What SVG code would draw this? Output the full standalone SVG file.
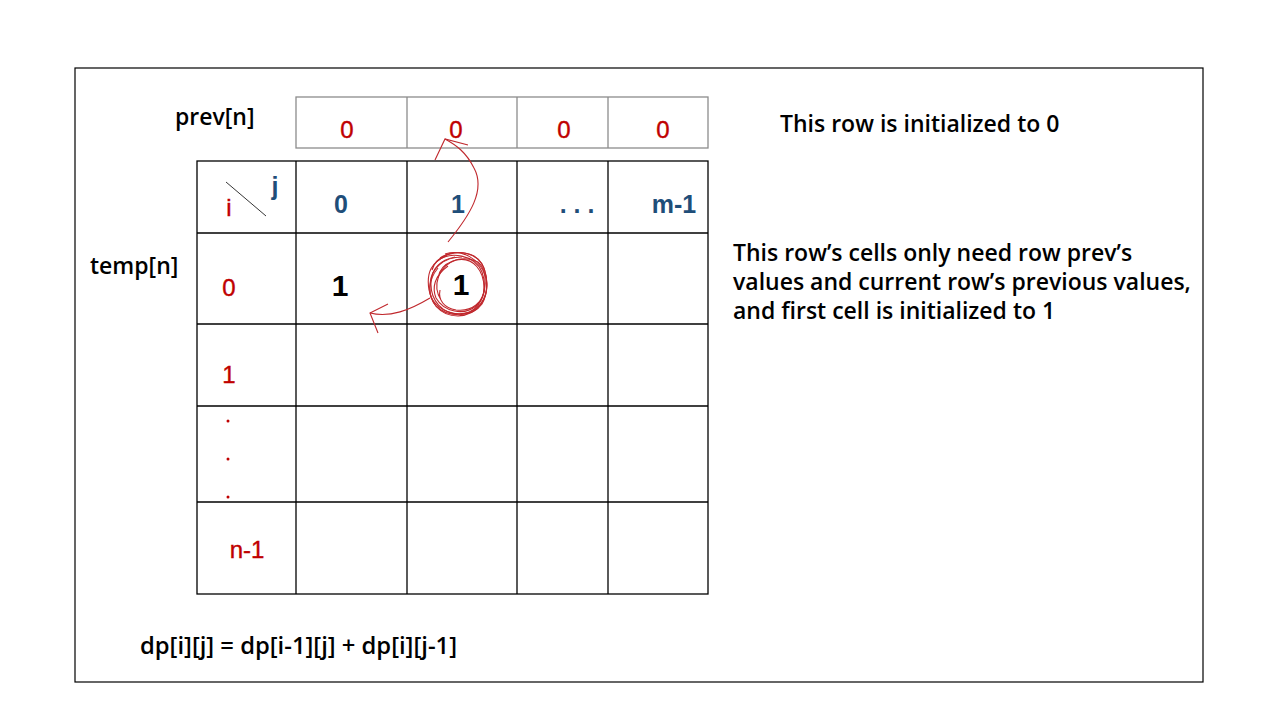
<svg xmlns="http://www.w3.org/2000/svg" width="1280" height="720" viewBox="0 0 1280 720">
<style>
.lbl{font-family:"Open Sans","Noto Sans",sans-serif;font-weight:600;font-size:23px;fill:#000}
.red{font-family:"Liberation Sans",Arial,sans-serif;font-size:24px;fill:#c00000;stroke:#c00000;stroke-width:0.4}
.blue{font-family:"Liberation Sans",Arial,sans-serif;font-weight:bold;font-size:25px;fill:#1f4e79}
.blk{font-family:"Liberation Sans",Arial,sans-serif;font-weight:bold;font-size:30px;fill:#000}
.grid{fill:none;stroke:#000;stroke-width:1.3}
.gray{fill:none;stroke:#8c8c8c;stroke-width:1.3}
.scr{fill:none;stroke:#c0282d;stroke-width:1.1}
</style>
<rect width="1280" height="720" fill="#fff"/>
<rect x="75" y="68" width="1128" height="614" fill="none" stroke="#000" stroke-width="1.2"/>

<g id="prev-row">
<text class="lbl" x="175" y="125">prev[n]</text>
<rect class="gray" x="296" y="97" width="412" height="51"/>
<line class="gray" x1="407" y1="97" x2="407" y2="148"/>
<line class="gray" x1="517" y1="97" x2="517" y2="148"/>
<line class="gray" x1="608" y1="97" x2="608" y2="148"/>
<text class="red" x="347" y="138" text-anchor="middle">0</text>
<text class="red" x="456" y="138" text-anchor="middle">0</text>
<text class="red" x="564" y="138" text-anchor="middle">0</text>
<text class="red" x="663" y="138" text-anchor="middle">0</text>
</g>

<g id="temp-grid">
<text class="lbl" x="90" y="274">temp[n]</text>
<rect class="grid" x="197" y="161" width="511" height="433"/>
<line class="grid" x1="296" y1="161" x2="296" y2="594"/>
<line class="grid" x1="407" y1="161" x2="407" y2="594"/>
<line class="grid" x1="517" y1="161" x2="517" y2="594"/>
<line class="grid" x1="608" y1="161" x2="608" y2="594"/>
<line class="grid" x1="197" y1="233" x2="708" y2="233"/>
<line class="grid" x1="197" y1="324" x2="708" y2="324"/>
<line class="grid" x1="197" y1="406" x2="708" y2="406"/>
<line class="grid" x1="197" y1="502" x2="708" y2="502"/>
<line x1="226" y1="182" x2="266" y2="216" stroke="#000" stroke-width="0.8"/>
<text class="red" x="229" y="216" text-anchor="middle">i</text>
<text class="blue" x="275" y="195" text-anchor="middle">j</text>
<text class="blue" x="341" y="213" text-anchor="middle">0</text>
<text class="blue" x="458" y="213" text-anchor="middle">1</text>
<text class="blue" x="577" y="213" text-anchor="middle">. . .</text>
<text class="blue" x="674" y="213" text-anchor="middle">m-1</text>
<text class="red" x="229" y="296" text-anchor="middle">0</text>
<text class="red" x="229" y="383" text-anchor="middle">1</text>
<circle cx="228" cy="421" r="1.5" fill="#c00000"/>
<circle cx="228" cy="459" r="1.5" fill="#c00000"/>
<circle cx="228" cy="497" r="1.5" fill="#c00000"/>
<text class="red" x="247" y="558" text-anchor="middle">n-1</text>
<text class="blk" x="340" y="296" text-anchor="middle">1</text>
<text class="blk" x="461" y="295" text-anchor="middle">1</text>
</g>

<g id="notes">
<text class="lbl" x="780" y="132">This row is initialized to 0</text>
<text class="lbl" x="733" y="261">This row’s cells only need row prev’s</text>
<text class="lbl" x="733" y="290">values and current row’s previous values,</text>
<text class="lbl" x="733" y="319">and first cell is initialized to 1</text>
<text class="lbl" x="140" y="654" textLength="317" lengthAdjust="spacingAndGlyphs">dp[i][j] = dp[i-1][j] + dp[i][j-1]</text>
</g>

<g id="connectors">
<path class="scr" d="M448 242 C470 215 486 190 474 168 C466 152 456 145 445 139"/>
<path class="scr" d="M435 160 L445 139 L468 145"/>
<path class="scr" d="M430 298 C410 310 390 318 370 313"/>
<path class="scr" d="M388 304 L370 313 L378 333"/>
<g class="scr">
<path d="M440 258 C455 248 478 252 484 268 C490 285 487 305 470 312 C452 318 432 308 429 290 C426 272 432 262 446 256"/>
<path d="M436 262 C450 250 475 255 482 272 C489 292 480 312 462 314 C442 315 430 300 431 282 C432 268 440 260 455 257"/>
<path d="M445 254 C462 249 480 258 486 278 C490 298 478 315 458 316 C440 316 428 302 430 284 C431 268 444 257 462 257"/>
<path d="M432 270 C436 255 458 248 474 256 C488 264 490 290 482 304 C472 318 448 318 436 306 C427 295 428 280 438 268"/>
<path d="M438 278 C440 262 462 254 478 262 C488 270 488 296 476 306 C464 316 444 312 436 298 C432 288 434 276 448 266"/>
<path d="M441 300 C432 286 438 266 456 260 C474 256 484 272 484 288 C484 302 472 312 456 310 C444 308 438 300 440 290"/>
</g>
</g>
</svg>
